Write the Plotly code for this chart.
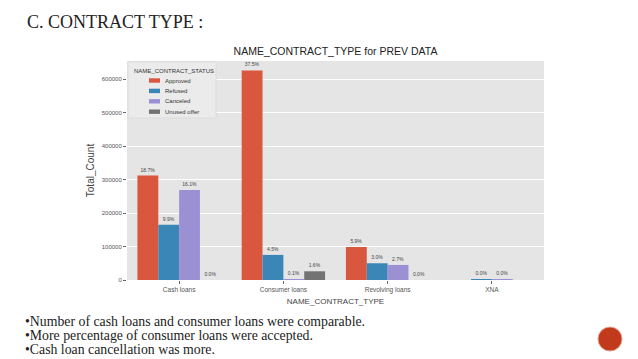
import plotly.graph_objects as go

# ---------------- data ----------------
contract_types = ["Cash loans", "Consumer loans", "Revolving loans", "XNA"]
statuses = ["Approved", "Refused", "Canceled", "Unused offer"]
approved = [312000, 626000, 98500, None]
refused = [165000, 75000, 50000, 150]
canceled = [269000, 1700, 45000, 200]
unused = [0, 26000, 0, None]
approved_lbl = ["18.7%", "37.5%", "5.9%", ""]
refused_lbl = ["9.9%", "4.5%", "3.0%", "0.0%"]
canceled_lbl = ["16.1%", "0.1%", "2.7%", "0.0%"]
unused_lbl = ["0.0%", "1.6%", "0.0%", ""]
y_ticks = [0, 100000, 200000, 300000, 400000, 500000, 600000]
bullets = [
    "•Number of cash loans and consumer loans were comparable.",
    "•More percentage of consumer loans were accepted.",
    "•Cash loan cancellation was more.",
]

colors = ["#D9573F", "#3A87B7", "#9C90D4", "#737373"]
values = [approved, refused, canceled, unused]
labels = [approved_lbl, refused_lbl, canceled_lbl, unused_lbl]

# page has an 8px body margin; work in reference pixel coords and offset
OFF = 8
W, H = 638 - OFF, 359 - OFF
L, R, T, B = 127 - OFF, 544 - OFF, 61 - OFF, 280 - OFF


def px(x):
    return (x - OFF - L) / (R - L)


def py(y):
    return (B - (y - OFF)) / (B - T)


sans = "Liberation Sans, Arial, sans-serif"
serif = "Liberation Serif, Times New Roman, serif"

fig = go.Figure()
for name, vals, lbls, col in zip(statuses, values, labels, colors):
    fig.add_trace(go.Bar(
        name=name, x=contract_types, y=vals, text=lbls,
        marker=dict(color=col, line=dict(width=0)),
        textposition="outside", cliponaxis=False,
        textfont=dict(size=5, color="#444444", family=sans),
        constraintext="none", showlegend=False,
    ))

fig.update_layout(
    width=W, height=H,
    margin=dict(l=L, r=W - R, t=T, b=H - B, pad=0),
    paper_bgcolor="white", plot_bgcolor="#E5E5E5",
    barmode="group", bargap=0.2, bargroupgap=0,
    title=dict(text="NAME_CONTRACT_TYPE for PREV DATA", x=0.5, xref="paper",
               y=1 - (51 - OFF) / H, yref="container", xanchor="center", yanchor="middle",
               font=dict(family=sans, size=10.5, color="#222222")),
    xaxis=dict(
        title=dict(text="NAME_CONTRACT_TYPE", font=dict(family=sans, size=8, color="#444444"), standoff=5),
        tickfont=dict(family=sans, size=6.5, color="#555555"),
        showgrid=False, ticks="outside", ticklen=3, tickcolor="#666666",
        range=[-0.5, 3.5], showline=False, zeroline=False,
    ),
    yaxis=dict(
        title=dict(text="Total_Count", font=dict(family=sans, size=10, color="#444444"), standoff=5),
        tickfont=dict(family=sans, size=6, color="#555555"),
        tickvals=y_ticks, ticktext=[str(v) for v in y_ticks],
        range=[0, 654000], showgrid=True, gridcolor="white", gridwidth=1.2,
        ticks="outside", ticklen=3, tickcolor="#666666", zeroline=False,
    ),
)

# legend box (drawn from the series names and colours)
fig.add_shape(type="rect", xref="paper", yref="paper",
              x0=px(128), x1=px(216), y0=py(118), y1=py(62),
              fillcolor="#EBEBEB", line=dict(color="#DCDCDC", width=1), layer="above")
fig.add_annotation(text="NAME_CONTRACT_STATUS", xref="paper", yref="paper",
                   x=px(132), y=py(70.5), xanchor="left", yanchor="middle", showarrow=False,
                   font=dict(family=sans, size=6, color="#333333"))
for i, (name, col) in enumerate(zip(statuses, colors)):
    yc = 80.5 + 10.4 * i
    fig.add_shape(type="rect", xref="paper", yref="paper",
                  x0=px(149), x1=px(160), y0=py(yc + 2.2), y1=py(yc - 2.2),
                  fillcolor=col, line=dict(width=0), layer="above")
    fig.add_annotation(text=name, xref="paper", yref="paper",
                       x=px(163), y=py(yc), xanchor="left", yanchor="middle", showarrow=False,
                       font=dict(family=sans, size=6, color="#333333"))

# slide heading
fig.add_annotation(text="C. CONTRACT TYPE :", xref="paper", yref="paper",
                   x=px(25), y=py(22), xanchor="left", yanchor="middle", showarrow=False,
                   font=dict(family=serif, size=18, color="#222222"))

# bullet text
for i, line in enumerate(bullets):
    fig.add_annotation(text=line, xref="paper", yref="paper",
                       x=px(23), y=py(321.5 + 14 * i), xanchor="left", yanchor="middle",
                       showarrow=False,
                       font=dict(family=serif, size=13.8, color="#222222"))

# red circle slide marker
cx, cy, r = 610, 339, 12
fig.add_shape(type="circle", xref="paper", yref="paper",
              x0=px(cx - r), x1=px(cx + r), y0=py(cy + r), y1=py(cy - r),
              fillcolor="#C23A1C", line=dict(color="#E8A090", width=1))

fig.write_html("out.html")
